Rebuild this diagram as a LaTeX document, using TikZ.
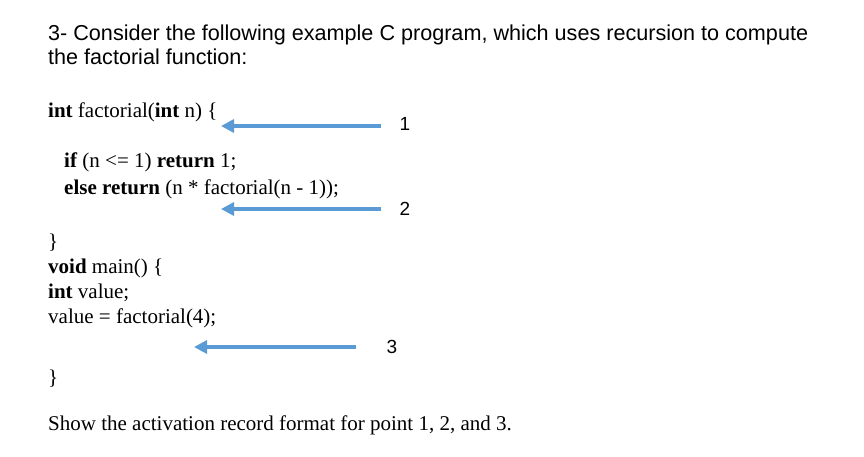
\documentclass[tikz,border=0pt]{standalone}
\usepackage{fontspec}
\setmainfont{Liberation Serif}
\newfontfamily\hd{Liberation Sans}
\usetikzlibrary{arrows.meta}
\definecolor{arr}{RGB}{91,155,213}
\begin{document}
\begin{tikzpicture}[x=1pt,y=-1pt,
  hdtxt/.style={anchor=base west,inner sep=0pt,font=\hd\fontsize{21.6}{24}\selectfont},
  code/.style={anchor=base west,inner sep=0pt,font=\fontsize{21}{24}\selectfont},
  lbl/.style={inner sep=0pt,font=\hd\fontsize{19}{21}\selectfont},
  ptr/.style={draw=arr,line width=3.2pt,-{Triangle[length=13pt,width=13pt]}}]
\useasboundingbox (0,0) rectangle (864,456);
\node[hdtxt] (h1) at (48,40) {3- Consider the following example C program, which uses recursion to compute};
\node[hdtxt] (h2) at (48,64) {the factorial function:};
\node[code] (c1) at (48,117) {\textbf{int} factorial(\textbf{int} n) \{};
\node[code] (c2) at (64,167) {\textbf{if} (n <= 1) \textbf{return} 1;};
\node[code] (c3) at (64,194) {\textbf{else return} (n * factorial(n - 1));};
\node[code] (c4) at (48,248) {\}};
\node[code] (c5) at (48,273) {\textbf{void} main() \{};
\node[code] (c6) at (48,298) {\textbf{int} value;};
\node[code] (c7) at (48,323) {value = factorial(4);};
\node[code] (c8) at (48,384) {\}};
\node[code] (c9) at (48,430) {Show the activation record format for point 1, 2, and 3.};
\coordinate (a1s) at (381,126); \coordinate (a1e) at (221,126);
\coordinate (a2s) at (381,209); \coordinate (a2e) at (221,209);
\coordinate (a3s) at (356,347); \coordinate (a3e) at (194,347);
\draw[ptr] (a1s) -- (a1e);
\draw[ptr] (a2s) -- (a2e);
\draw[ptr] (a3s) -- (a3e);
\node[lbl] (n1) at (405,124) {1};
\node[lbl] (n2) at (405,209) {2};
\node[lbl] (n3) at (392,347) {3};
\end{tikzpicture}
\end{document}
